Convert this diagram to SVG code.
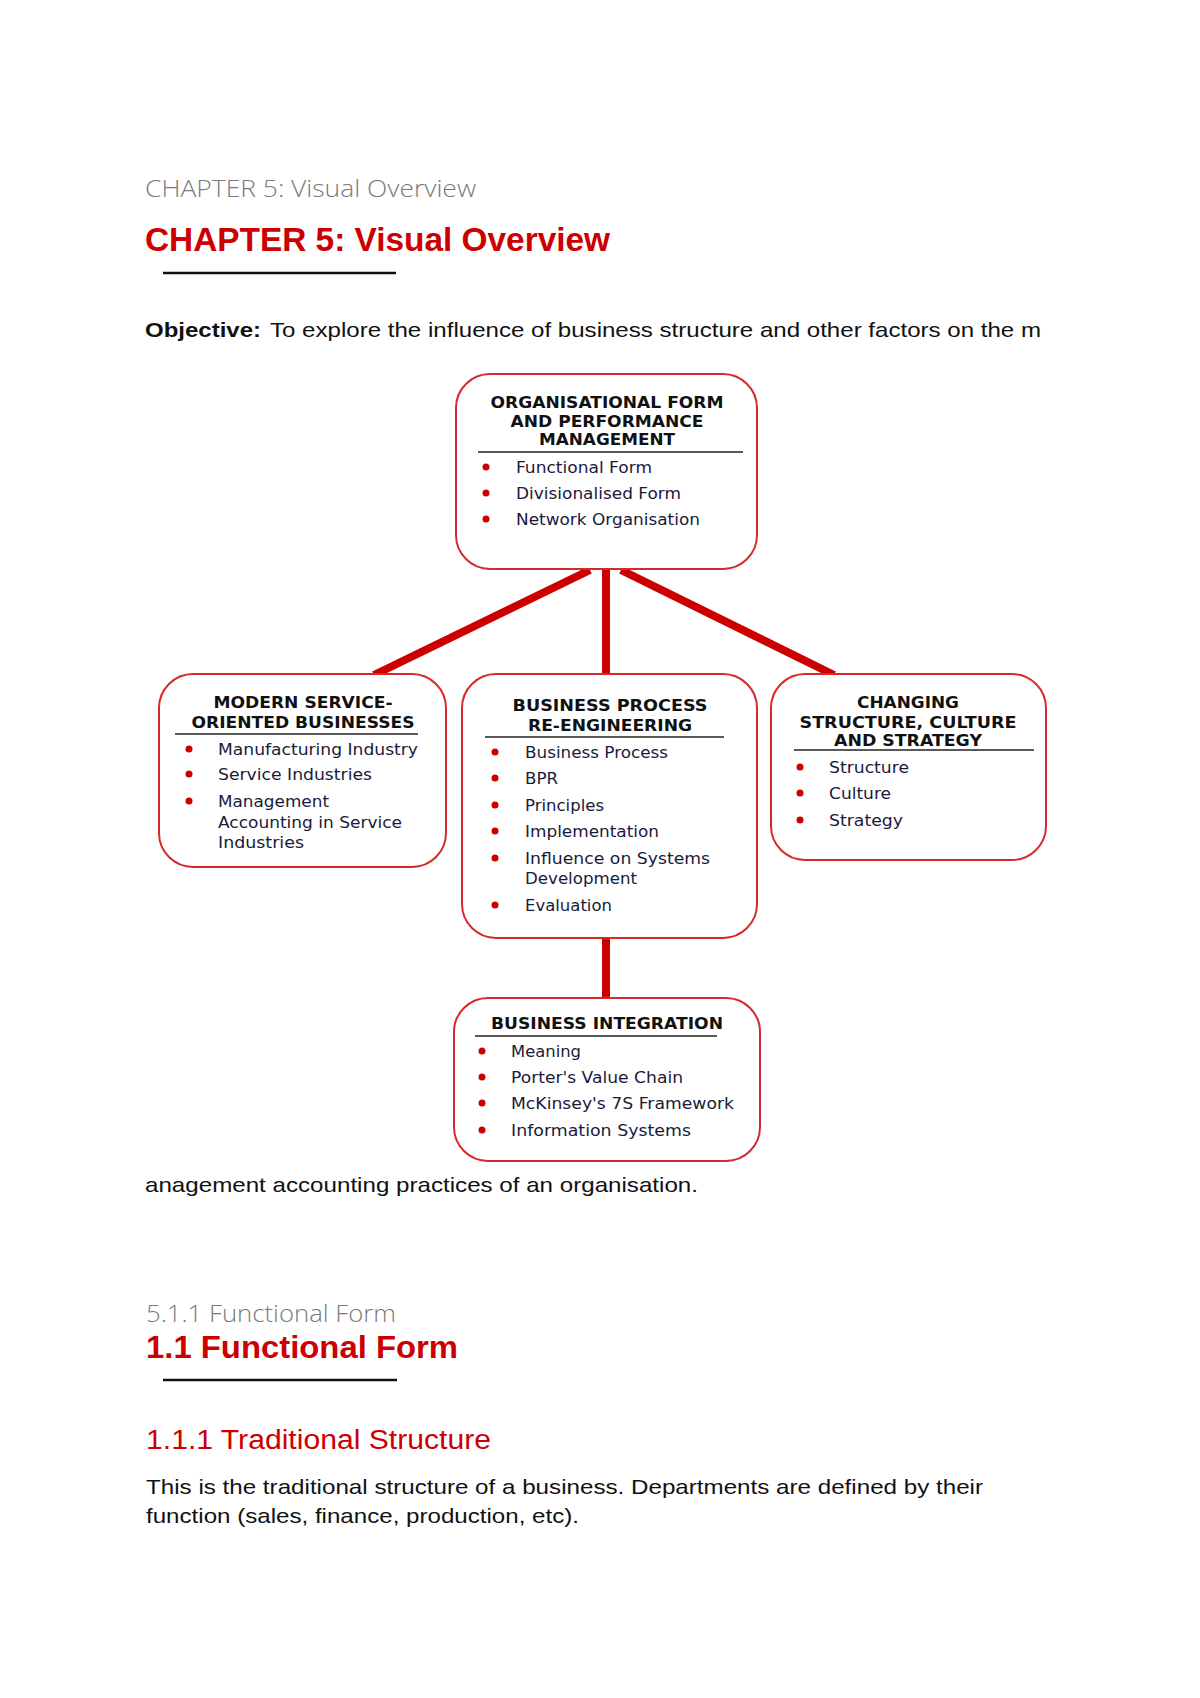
<svg xmlns="http://www.w3.org/2000/svg" width="1200" height="1698" viewBox="0 0 1200 1698">
<style>
.bg{fill:#ffffff}
.grey{font-family:"Open Sans","Liberation Sans",sans-serif;font-weight:300;fill:#7a7a7a}
.h1{font-family:"Liberation Sans",Arial,sans-serif;font-weight:bold;fill:#cc0000}
.h3{font-family:"Liberation Sans",Arial,sans-serif;fill:#cc0000}
.body{font-family:"Liberation Sans",Arial,sans-serif;fill:#111111;font-size:21px}
.rule{stroke:#111111;stroke-width:2.5}
.box{fill:#ffffff;stroke:#d42a2a;stroke-width:2}
.ttl{font-family:"DejaVu Sans",Verdana,sans-serif;font-weight:bold;font-size:16.5px;fill:#111111;text-anchor:middle}
.itm{font-family:"DejaVu Sans",Verdana,sans-serif;font-size:15.5px;fill:#1a1a3a}
.bul{fill:#cc0000}
.sep{stroke:#222222;stroke-width:1.5}
.con{stroke:#cc0000;stroke-width:8;fill:none}
</style>
<rect class="bg" x="0" y="0" width="1200" height="1698"/>

<text class="grey" x="145" y="197" font-size="24" textLength="331" lengthAdjust="spacingAndGlyphs">CHAPTER 5: Visual Overview</text>
<text class="h1" x="145" y="251" font-size="33" textLength="465" lengthAdjust="spacingAndGlyphs">CHAPTER 5: Visual Overview</text>
<line class="rule" x1="163" y1="273" x2="396" y2="273" stroke-width="3"/>
<text class="body" y="337"><tspan x="145" font-weight="bold" textLength="116" lengthAdjust="spacingAndGlyphs">Objective:</tspan><tspan x="270" textLength="771" lengthAdjust="spacingAndGlyphs">To explore the influence of business structure and other factors on the m</tspan></text>

<g id="connectors">
<line class="con" x1="606" y1="568" x2="606" y2="676"/>
<line class="con" x1="590" y1="570" x2="374" y2="675"/>
<line class="con" x1="621" y1="570" x2="834" y2="675"/>
<line class="con" x1="606" y1="936" x2="606" y2="999"/>
</g>

<g id="node-org">
<rect class="box" x="456" y="374" width="301" height="195" rx="34"/>
<text class="ttl" x="607" y="408" textLength="233" lengthAdjust="spacingAndGlyphs">ORGANISATIONAL FORM</text>
<text class="ttl" x="607" y="427" textLength="193" lengthAdjust="spacingAndGlyphs">AND PERFORMANCE</text>
<text class="ttl" x="607" y="445" textLength="136" lengthAdjust="spacingAndGlyphs">MANAGEMENT</text>
<line class="sep" x1="478" y1="452" x2="743" y2="452"/>
<circle class="bul" cx="486" cy="467" r="3.5"/>
<circle class="bul" cx="486" cy="493" r="3.5"/>
<circle class="bul" cx="486" cy="519" r="3.5"/>
<text class="itm" x="516" y="473" textLength="136" lengthAdjust="spacingAndGlyphs">Functional Form</text>
<text class="itm" x="516" y="499" textLength="165" lengthAdjust="spacingAndGlyphs">Divisionalised Form</text>
<text class="itm" x="516" y="525" textLength="184" lengthAdjust="spacingAndGlyphs">Network Organisation</text>
</g>

<g id="node-modern">
<rect class="box" x="159" y="674" width="287" height="193" rx="34"/>
<text class="ttl" x="303" y="708" textLength="179" lengthAdjust="spacingAndGlyphs">MODERN SERVICE-</text>
<text class="ttl" x="303" y="728" textLength="223" lengthAdjust="spacingAndGlyphs">ORIENTED BUSINESSES</text>
<line class="sep" x1="175" y1="734" x2="418" y2="734"/>
<circle class="bul" cx="189" cy="749" r="3.5"/>
<circle class="bul" cx="189" cy="774" r="3.5"/>
<circle class="bul" cx="189" cy="801" r="3.5"/>
<text class="itm" x="218" y="755" textLength="200" lengthAdjust="spacingAndGlyphs">Manufacturing Industry</text>
<text class="itm" x="218" y="780" textLength="154" lengthAdjust="spacingAndGlyphs">Service Industries</text>
<text class="itm" x="218" y="807" textLength="111" lengthAdjust="spacingAndGlyphs">Management</text>
<text class="itm" x="218" y="828" textLength="184" lengthAdjust="spacingAndGlyphs">Accounting in Service</text>
<text class="itm" x="218" y="848" textLength="86" lengthAdjust="spacingAndGlyphs">Industries</text>
</g>

<g id="node-bpr">
<rect class="box" x="462" y="674" width="295" height="264" rx="34"/>
<text class="ttl" x="610" y="711" textLength="195" lengthAdjust="spacingAndGlyphs">BUSINESS PROCESS</text>
<text class="ttl" x="610" y="731" textLength="164" lengthAdjust="spacingAndGlyphs">RE-ENGINEERING</text>
<line class="sep" x1="485" y1="737" x2="724" y2="737"/>
<circle class="bul" cx="495" cy="752" r="3.5"/>
<circle class="bul" cx="495" cy="778" r="3.5"/>
<circle class="bul" cx="495" cy="805" r="3.5"/>
<circle class="bul" cx="495" cy="831" r="3.5"/>
<circle class="bul" cx="495" cy="858" r="3.5"/>
<circle class="bul" cx="495" cy="905" r="3.5"/>
<text class="itm" x="525" y="758" textLength="143" lengthAdjust="spacingAndGlyphs">Business Process</text>
<text class="itm" x="525" y="784" textLength="33" lengthAdjust="spacingAndGlyphs">BPR</text>
<text class="itm" x="525" y="811" textLength="79" lengthAdjust="spacingAndGlyphs">Principles</text>
<text class="itm" x="525" y="837" textLength="134" lengthAdjust="spacingAndGlyphs">Implementation</text>
<text class="itm" x="525" y="864" textLength="185" lengthAdjust="spacingAndGlyphs">Influence on Systems</text>
<text class="itm" x="525" y="884" textLength="112" lengthAdjust="spacingAndGlyphs">Development</text>
<text class="itm" x="525" y="911" textLength="87" lengthAdjust="spacingAndGlyphs">Evaluation</text>
</g>

<g id="node-changing">
<rect class="box" x="771" y="674" width="275" height="186" rx="34"/>
<text class="ttl" x="908" y="708" textLength="102" lengthAdjust="spacingAndGlyphs">CHANGING</text>
<text class="ttl" x="908" y="728" textLength="217" lengthAdjust="spacingAndGlyphs">STRUCTURE, CULTURE</text>
<text class="ttl" x="908" y="746" textLength="148" lengthAdjust="spacingAndGlyphs">AND STRATEGY</text>
<line class="sep" x1="794" y1="750" x2="1034" y2="750"/>
<circle class="bul" cx="800" cy="767" r="3.5"/>
<circle class="bul" cx="800" cy="793" r="3.5"/>
<circle class="bul" cx="800" cy="820" r="3.5"/>
<text class="itm" x="829" y="773" textLength="80" lengthAdjust="spacingAndGlyphs">Structure</text>
<text class="itm" x="829" y="799" textLength="62" lengthAdjust="spacingAndGlyphs">Culture</text>
<text class="itm" x="829" y="826" textLength="74" lengthAdjust="spacingAndGlyphs">Strategy</text>
</g>

<g id="node-integration">
<rect class="box" x="454" y="998" width="306" height="163" rx="34"/>
<text class="ttl" x="607" y="1029" textLength="232" lengthAdjust="spacingAndGlyphs">BUSINESS INTEGRATION</text>
<line class="sep" x1="475" y1="1036" x2="717" y2="1036"/>
<circle class="bul" cx="482" cy="1051" r="3.5"/>
<circle class="bul" cx="482" cy="1077" r="3.5"/>
<circle class="bul" cx="482" cy="1103" r="3.5"/>
<circle class="bul" cx="482" cy="1130" r="3.5"/>
<text class="itm" x="511" y="1057" textLength="70" lengthAdjust="spacingAndGlyphs">Meaning</text>
<text class="itm" x="511" y="1083" textLength="172" lengthAdjust="spacingAndGlyphs">Porter's Value Chain</text>
<text class="itm" x="511" y="1109" textLength="223" lengthAdjust="spacingAndGlyphs">McKinsey's 7S Framework</text>
<text class="itm" x="511" y="1136" textLength="180" lengthAdjust="spacingAndGlyphs">Information Systems</text>
</g>

<text class="body" x="145" y="1192" textLength="553" lengthAdjust="spacingAndGlyphs">anagement accounting practices of an organisation.</text>

<text class="grey" x="146" y="1322" font-size="24" textLength="250" lengthAdjust="spacingAndGlyphs">5.1.1 Functional Form</text>
<text class="h1" x="146" y="1358" font-size="32" textLength="312" lengthAdjust="spacingAndGlyphs">1.1 Functional Form</text>
<line class="rule" x1="163" y1="1380" x2="397" y2="1380"/>
<text class="h3" x="146" y="1449" font-size="27" textLength="345" lengthAdjust="spacingAndGlyphs">1.1.1 Traditional Structure</text>
<text class="body" x="146" y="1494" textLength="837" lengthAdjust="spacingAndGlyphs">This is the traditional structure of a business. Departments are defined by their</text>
<text class="body" x="146" y="1523" textLength="433" lengthAdjust="spacingAndGlyphs">function (sales, finance, production, etc).</text>
</svg>
